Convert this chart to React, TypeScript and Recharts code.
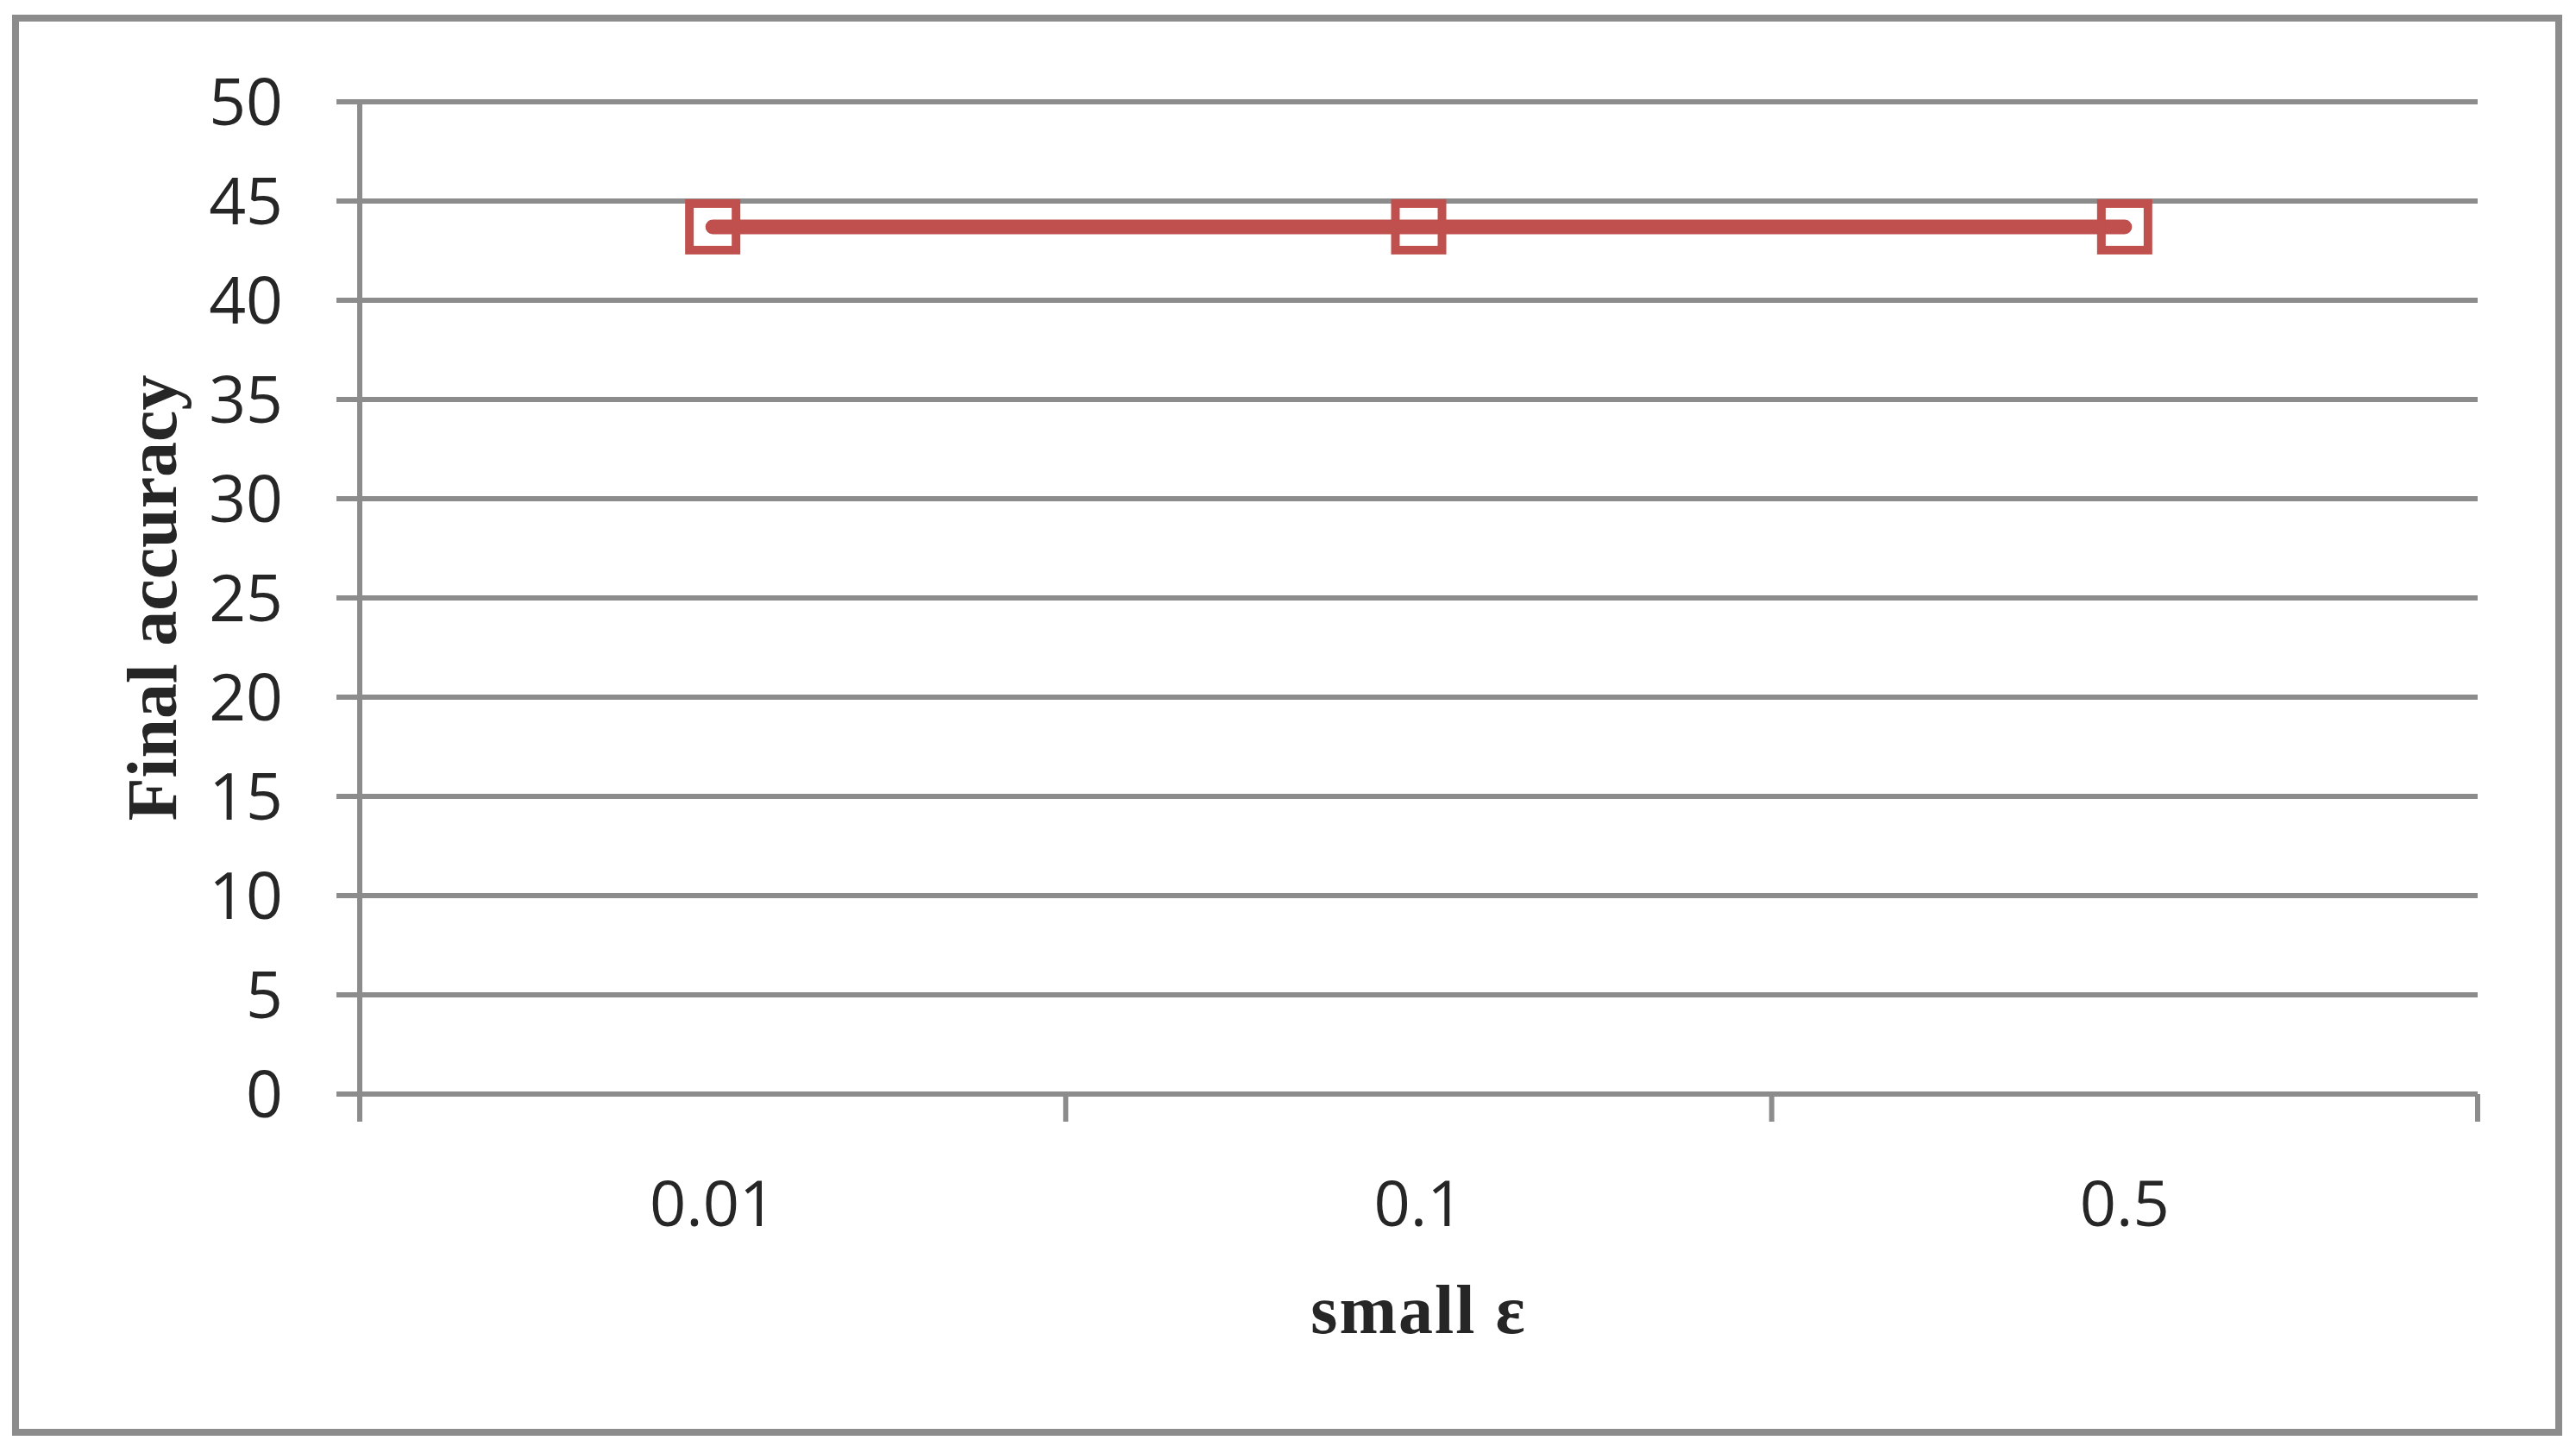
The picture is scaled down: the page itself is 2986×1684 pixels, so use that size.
import React from 'react';
import { ComposedChart, Line, XAxis, YAxis, CartesianGrid } from 'recharts';

const categories = ['0.01', '0.1', '0.5'];
const accuracy = [43.7, 43.7, 43.7];
const yTicks = [0, 5, 10, 15, 20, 25, 30, 35, 40, 45, 50];

const data = categories.map((c, i) => ({ eps: c, acc: accuracy[i] }));

const GRAY = '#8c8c8c';
const RED = '#C0504D';
const TEXT = '#262626';

const SquareDot = (props: any) => {
  const { cx, cy, index } = props;
  if (cx == null || cy == null) return null;
  const s = 54;
  return (
    <rect
      key={`sq-${index}`}
      x={cx - s / 2}
      y={cy - s / 2}
      width={s}
      height={s}
      fill="none"
      stroke={RED}
      strokeWidth={10}
    />
  );
};

// Category tick: label centred in its band, plus boundary tick marks at band edges
const CatTick = (props: any) => {
  const { x, y, payload, index, visibleTicksCount } = props;
  const half = payload && payload.offset ? payload.offset : 0;
  const tickLen = 32;
  const isLast = index === visibleTicksCount - 1;
  return (
    <g>
      <line x1={x - half} y1={y} x2={x - half} y2={y + tickLen} stroke={GRAY} strokeWidth={6} />
      {isLast && (
        <line x1={x + half} y1={y} x2={x + half} y2={y + tickLen} stroke={GRAY} strokeWidth={6} />
      )}
      <text
        x={x}
        y={y + 100}
        dy="0.71em"
        textAnchor="middle"
        fontFamily="'Open Sans', sans-serif"
        fontSize={74}
        fill={TEXT}
      >
        {payload.value}
      </text>
    </g>
  );
};

const YLabel = (props: any) => {
  const vb = props.viewBox || {};
  const x = vb.x + 87;
  const y = vb.y + vb.height / 2;
  return (
    <text
      x={x}
      y={y}
      transform={`rotate(-90, ${x}, ${y})`}
      textAnchor="middle"
      fontFamily="'Liberation Serif', 'Times New Roman', serif"
      fontWeight="bold"
      fontSize={82}
      fill={TEXT}
    >
      Final accuracy
    </text>
  );
};

export default function App() {
  return (
    <div style={{ position: 'absolute', left: 0, top: 0, width: 2986, height: 1684, background: '#fff' }}>
      <div
        style={{
          position: 'absolute',
          left: 14,
          top: 17,
          width: 2956,
          height: 1647,
          boxSizing: 'border-box',
          border: `8px solid ${GRAY}`,
        }}
      />
      <div style={{ position: 'absolute', left: 0, top: 0 }}>
        <ComposedChart
          width={2986}
          height={1684}
          data={data}
          margin={{ top: 118, right: 114, left: 117, bottom: 415 }}
        >
          <CartesianGrid horizontal vertical={false} stroke={GRAY} strokeWidth={6} />
          <XAxis
            dataKey="eps"
            scale="band"
            height={1}
            axisLine={false}
            tickLine={false}
            tickSize={0}
            tickMargin={0}
            interval={0}
            tick={<CatTick />}
            label={{
              value: 'small ε',
              position: 'bottom',
              offset: 219,
              fontFamily: "'Liberation Serif', 'Times New Roman', serif",
              fontWeight: 'bold',
              fontSize: 80,
              letterSpacing: 2,
              fill: TEXT,
            }}
          />
          <YAxis
            width={300}
            domain={[0, 50]}
            ticks={yTicks}
            interval={0}
            axisLine={{ stroke: GRAY, strokeWidth: 6 }}
            tickLine={{ stroke: GRAY, strokeWidth: 6 }}
            tickSize={27}
            tickMargin={62}
            tick={{ fontFamily: "'Open Sans', sans-serif", fontSize: 75, fill: TEXT }}
            label={<YLabel />}
          />
          <Line
            type="linear"
            dataKey="acc"
            stroke={RED}
            strokeWidth={17}
            strokeLinecap="round"
            dot={<SquareDot />}
            activeDot={false}
            isAnimationActive={false}
          />
        </ComposedChart>
      </div>
    </div>
  );
}
